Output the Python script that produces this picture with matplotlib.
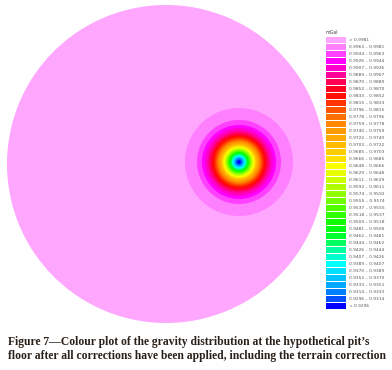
import matplotlib
matplotlib.use('Agg')
import matplotlib.pyplot as plt
from matplotlib.patches import Circle, Rectangle

# ---- data ----
unit = 'mGal'
# contour thresholds, highest first (mGal)
thresholds = [0.9981, 0.9963, 0.9944, 0.9926, 0.9907, 0.9889, 0.9870, 0.9852,
              0.9833, 0.9815, 0.9796, 0.9778, 0.9759, 0.9740, 0.9722, 0.9703,
              0.9685, 0.9666, 0.9648, 0.9629, 0.9611, 0.9592, 0.9574, 0.9555,
              0.9537, 0.9518, 0.9500, 0.9481, 0.9462, 0.9444, 0.9426, 0.9407,
              0.9389, 0.9370, 0.9351, 0.9333, 0.9314, 0.9296]
# radius (map units) at which the field falls below each threshold
ring_radius = [54, 42, 37, 34, 31.5, 29.5, 27.5, 26, 24.5, 23, 22, 21, 20, 19,
               18, 17, 16.2, 15.4, 14.6, 13.8, 13.1, 12.4, 11.7, 11.0, 10.4, 9.8,
               9.2, 8.6, 8.0, 7.4, 6.8, 6.2, 5.6, 5.0, 4.3, 3.6, 2.8, 1.8]
domain_radius = 159           # pit floor radius (map units)
anomaly_center = (73, 2)      # anomaly centre relative to floor centre

caption = ["Figure 7\u2014Colour plot of the gravity distribution at the hypothetical pit\u2019s",
           "floor after all corrections have been applied, including the terrain correction"]

# ---- style ----
bin_colors = ['#FFA6FF', '#FF80FF', '#FF40FF', '#FF00FF', '#FF00CC', '#FF0099',
              '#FF0055', '#FF0020', '#FF1000', '#FF3300', '#FF5500', '#FF7000',
              '#FF8800', '#FF9900', '#FFAA00', '#FFBB00', '#FFCC00', '#FFE000',
              '#FFFF00', '#E8FF00', '#CCFF00', '#B0FF00', '#90FF00', '#70FF00',
              '#50FF00', '#30FF00', '#10FF00', '#00FF10', '#00FF30', '#00FF60',
              '#00FFA0', '#00FFD0', '#00FFFF', '#00E0FF', '#00C4FF', '#00A8FF',
              '#0080FF', '#0050FF', '#0000FF']

labels = ['> %.4f' % thresholds[0]]
for i in range(1, len(thresholds)):
    labels.append('%.4f \u2013 %.4f' % (thresholds[i], thresholds[i - 1]))
labels.append('< %.4f' % thresholds[-1])

fig = plt.figure(figsize=(3.92, 3.70), dpi=100)

# map
ax = fig.add_axes([0, 0, 1, 1])
ax.set_xlim(-166, 226)
ax.set_ylim(-206, 164)
ax.axis('off')
ax.add_patch(Circle((0, 0), domain_radius, facecolor=bin_colors[0], lw=0))
for i, r in enumerate(ring_radius):
    ax.add_patch(Circle(anomaly_center, r, facecolor=bin_colors[i + 1], lw=0,
                        zorder=2 + i))

# legend + caption overlay (pixel coordinates)
ov = fig.add_axes([0, 0, 1, 1])
ov.set_xlim(0, 392)
ov.set_ylim(370, 0)
ov.axis('off')
ov.patch.set_alpha(0)

ov.text(326, 33, unit, fontsize=3.4, color='#444444', va='center', ha='left')
y0 = 36.5
dy = 7.0
for i, (c, lab) in enumerate(zip(bin_colors, labels)):
    ov.add_patch(Rectangle((326, y0 + i * dy), 20, dy - 0.6, facecolor=c, lw=0))
    ov.text(349, y0 + i * dy + dy / 2, lab, fontsize=3.2, color='#555555',
            va='center', ha='left')

for k, line in enumerate(caption):
    ov.text(8, 342 + 14 * k, line, fontsize=8.4, fontweight='bold',
            family='Liberation Serif', color='#2a211b', va='center', ha='left')

fig.savefig('out.png', dpi=100)
